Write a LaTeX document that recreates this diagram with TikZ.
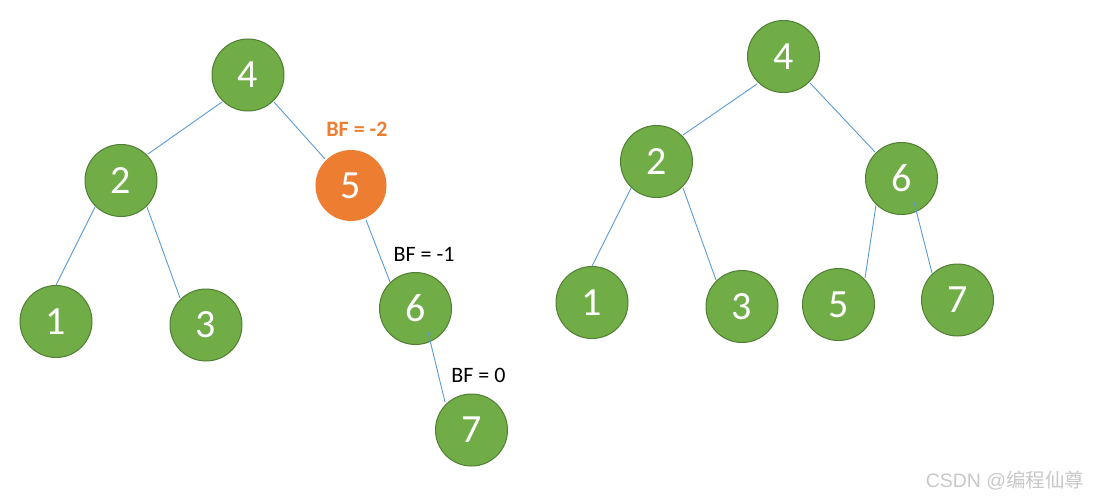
\documentclass[tikz,border=0pt]{standalone}
\usepackage{fontspec}
\setmainfont{Carlito}
\newfontfamily\cjkfont{Noto Sans CJK SC}
\newfontfamily\wmlatin{Liberation Sans}
\usetikzlibrary{calc}
\definecolor{nodegreen}{RGB}{112,173,71}
\definecolor{nodeborder}{RGB}{80,126,50}
\definecolor{nodeorange}{RGB}{237,125,49}
\definecolor{edgeblue}{RGB}{91,155,213}
\definecolor{wmgray}{RGB}{200,200,200}
\begin{document}
\begin{tikzpicture}[x=1pt,y=-1pt,
  treenode/.style={circle,fill=nodegreen,draw=nodeborder,line width=1pt,minimum size=72pt,inner sep=0pt,text=white,font=\fontsize{40}{40}\selectfont},
  hotnode/.style={circle,fill=nodeorange,minimum size=71pt,inner sep=0pt,text=white,font=\fontsize{40}{40}\selectfont},
  edge/.style={draw=edgeblue,line width=0.9pt},
  bflabel/.style={font=\fontsize{22}{22}\selectfont,inner sep=0pt},
  bfhot/.style={font=\bfseries\fontsize{22}{22}\selectfont,text=nodeorange,inner sep=0pt}]
\useasboundingbox (0,0) rectangle (1094,498);
% left tree
\node[treenode] (L4) at (248,75) {4};
\node[treenode] (L2) at (121,180.5) {2};
\node[hotnode]  (L5) at (351,185.5) {5};
\node[treenode] (L1) at (56,321.5) {1};
\node[treenode] (L3) at (206,325) {3};
\node[treenode] (L6) at (415.5,308.5) {6};
\node[treenode] (L7) at (471.5,430) {7};
\node[bfhot] (bf5) at (357,129.5) {BF = -2};
\node[bflabel] (bf6) at (424,254.5) {BF = -1};
\node[bflabel] (bf7) at (478.5,375) {BF = 0};
\draw[edge] ($(L4)+(-26,27)$) -- ($(L2)+(27,-26.5)$);
\draw[edge] ($(L4)+(26,27)$) -- ($(L5)+(-26,-26.5)$);
\draw[edge] ($(L5)+(15,34.5)$) -- ($(L6)+(-25.5,-26.5)$);
\draw[edge] ($(L6)+(12.5,23.5)$) -- ($(L7)+(-26.5,-28)$);
\draw[edge] ($(L2)+(-26,26.5)$) -- ($(L1)+(0,-36.5)$);
\draw[edge] ($(L2)+(26,26.5)$) -- ($(L3)+(-26,-27)$);
% right tree
\node[treenode] (R4) at (783.5,56.5) {4};
\node[treenode] (R2) at (656.5,161.5) {2};
\node[treenode] (R6) at (901.5,178.5) {6};
\node[treenode] (R1) at (592,302.5) {1};
\node[treenode] (R3) at (742,306.5) {3};
\node[treenode] (R5) at (838.5,304.5) {5};
\node[treenode] (R7) at (957.5,300) {7};
\draw[edge] ($(R4)+(-26.5,27.5)$) -- ($(R2)+(26.5,-26.5)$);
\draw[edge] ($(R4)+(26.5,26.5)$) -- ($(R6)+(-26.5,-26.5)$);
\draw[edge] ($(R2)+(-25.5,26.5)$) -- ($(R1)+(0,-36.5)$);
\draw[edge] ($(R2)+(26.5,26.5)$) -- ($(R3)+(-26,-26.5)$);
\draw[edge] ($(R6)+(-25.5,26.5)$) -- ($(R5)+(26.5,-26.5)$);
\draw[edge] ($(R6)+(12.5,23.5)$) -- ($(R7)+(-25.5,-27)$);
% watermark
\node[font=\fontsize{19.5}{19.5}\selectfont,text=wmgray,inner sep=0pt] (wm) at (1005,481) {{\wmlatin CSDN @}{\cjkfont 编程仙尊}};
\end{tikzpicture}
\end{document}
